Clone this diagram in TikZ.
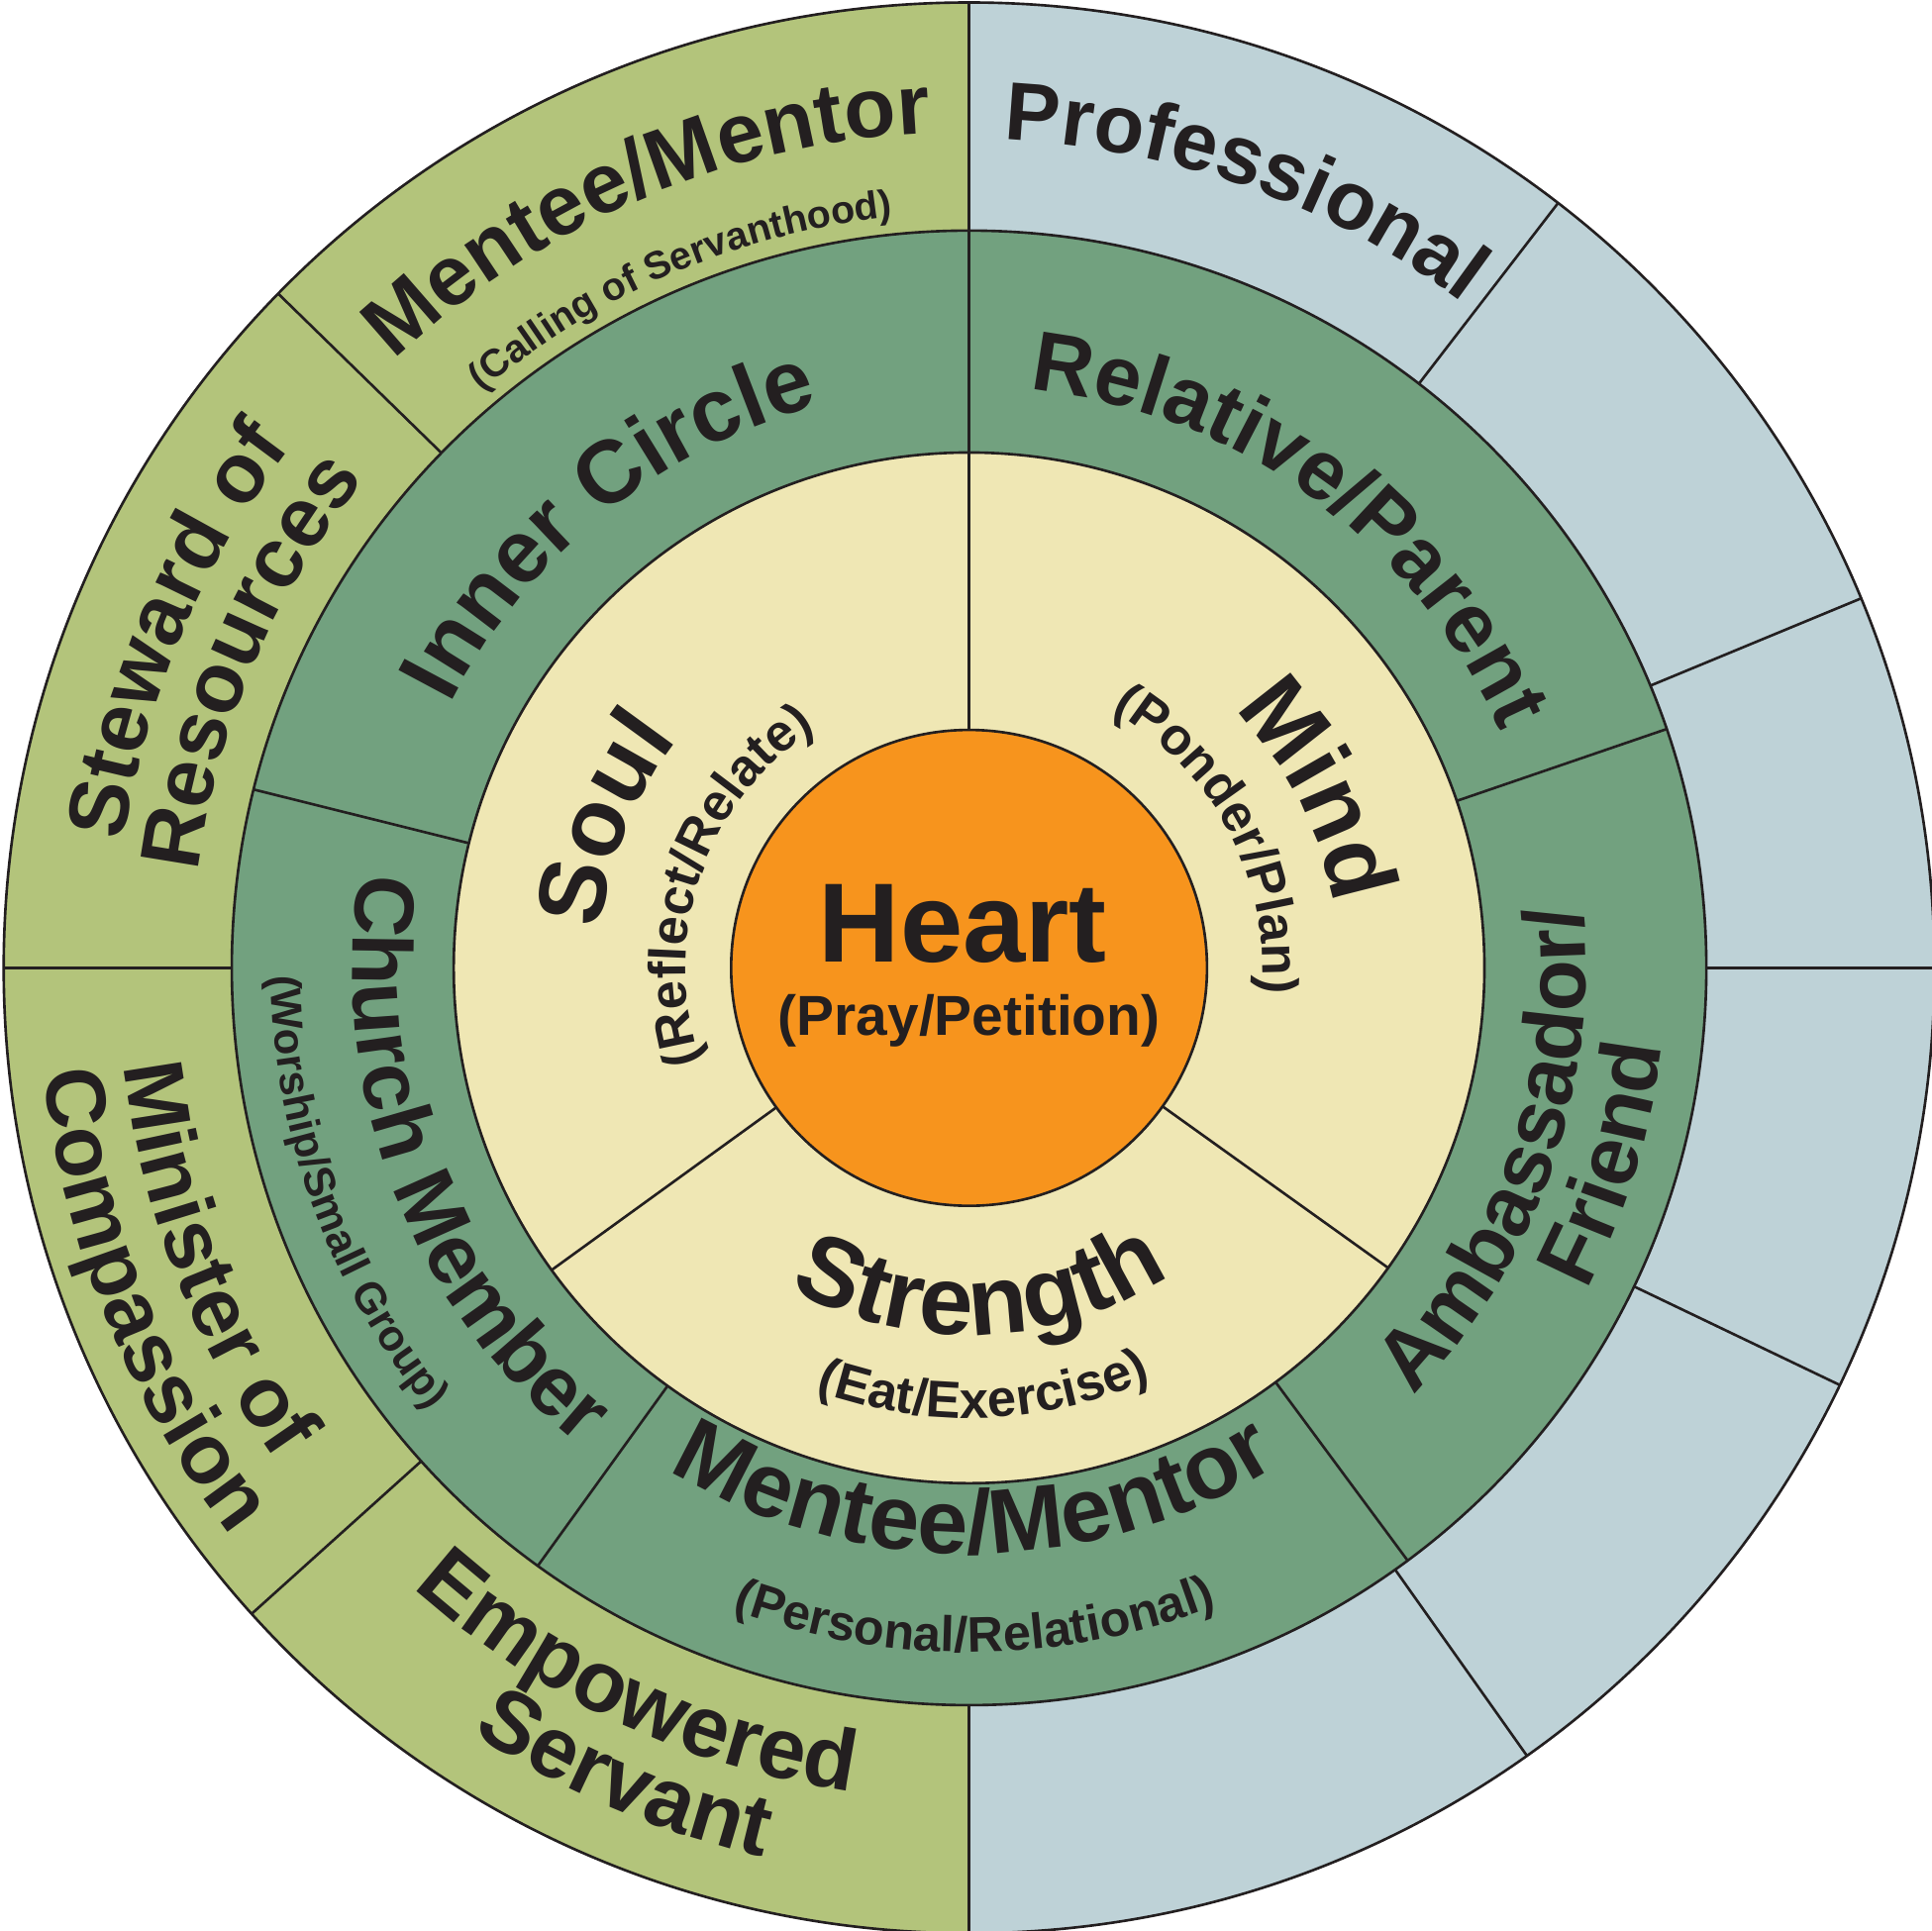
\documentclass[tikz,border=0pt]{standalone}
\usepackage{fontspec}
\setmainfont{Liberation Sans}
\usetikzlibrary{decorations.text}
\definecolor{olive}{HTML}{B3C47B}
\definecolor{sky}{HTML}{BED2D7}
\definecolor{dgreen}{HTML}{72A17F}
\definecolor{cream}{HTML}{EFE7B4}
\definecolor{orng}{HTML}{F7941D}
\definecolor{ink}{HTML}{231F20}
\newcommand\fs[1]{\fontsize{#1}{#1}\selectfont\bfseries}
% clockwise text (tops outward): mid angle, baseline radius, size, text
\newcommand\cwtext[4]{\path[decorate,decoration={text along path,text align=center,text color=ink,text={|\fs{#3}|#4}}] ({#1+70}:#2) arc[start angle={#1+70}, end angle={#1-70}, radius=#2];}
% counter-clockwise text (tops inward)
\newcommand\ccwtext[4]{\path[decorate,decoration={text along path,text align=center,text color=ink,text={|\fs{#3}|#4}}] ({#1-70}:#2) arc[start angle={#1-70}, end angle={#1+70}, radius=#2];}
\begin{document}
\begin{tikzpicture}[line width=0.6pt, draw=ink,
  divider/.style={draw=ink, line width=0.6pt}]
\useasboundingbox (-7.86,-7.81) rectangle (7.81,7.85);
% outer ring
\fill[olive] (0,0) -- (90:7.83) arc[start angle=90,end angle=270,radius=7.83] -- cycle;
\fill[sky] (0,0) -- (-90:7.83) arc[start angle=-90,end angle=90,radius=7.83] -- cycle;
\draw (0,0) circle[radius=7.83];
\foreach \a in {90,135.7,180,222,270,52.4,22.5,0,-25.6,-54.7}
  \draw[divider] (\a:5.98) -- (\a:7.83);
% middle ring
\draw[fill=dgreen] (0,0) circle[radius=5.98];
\foreach \a in {90,166,234.2,306.5,18.9}
  \draw[divider] (\a:4.18) -- (\a:5.98);
% inner ring
\draw[fill=cream] (0,0) circle[radius=4.18];
\foreach \a in {90,215.9,-35.6}
  \draw[divider] (\a:1.93) -- (\a:4.18);
\draw[fill=orng] (0,0) circle[radius=1.93];
\node[text=ink,font=\fs{26}] (heart) at (-0.05,0.36) {Heart};
\node[text=ink,font=\fs{13}] (pray) at (0,-0.43) {(Pray/Petition)};
% outer labels
\cwtext{70.5}{6.72}{19}{Professional}
\cwtext{113}{6.78}{19.5}{Mentee/Mentor}
\cwtext{113}{6.12}{9}{(Calling of Servanthood)}
\cwtext{157}{6.93}{19.5}{Steward of}
\cwtext{157}{6.30}{19.5}{Resources}
\ccwtext{201}{6.90}{19.5}{Minister of}
\ccwtext{202}{7.55}{19.5}{Compassion}
\ccwtext{245}{6.75}{20}{Empowered}
\ccwtext{247}{7.40}{20}{Servant}
% middle labels
\cwtext{129}{4.72}{20.5}{Inner Circle}
\cwtext{54}{4.72}{19.5}{Relative/Parent}
\ccwtext{-19}{5.00}{19.5}{Ambassador/}
\ccwtext{-17}{5.65}{19.5}{Friend}
\ccwtext{270.5}{4.75}{21}{Mentee/Mentor}
\ccwtext{270.5}{5.55}{11.5}{(Personal/Relational)}
\ccwtext{201}{5.00}{19.5}{Church Member}
\ccwtext{200}{5.66}{10}{(Worship/Small Group)}
% inner labels
\cwtext{158}{3.00}{22}{Soul}
\cwtext{161}{2.30}{12}{(Reflect/Relate)}
\cwtext{27}{3.00}{22}{Mind}
\cwtext{28}{2.38}{12}{(Ponder/Plan)}
\ccwtext{272}{2.98}{22.5}{Strength}
\ccwtext{272}{3.65}{12}{(Eat/Exercise)}
\end{tikzpicture}
\end{document}
